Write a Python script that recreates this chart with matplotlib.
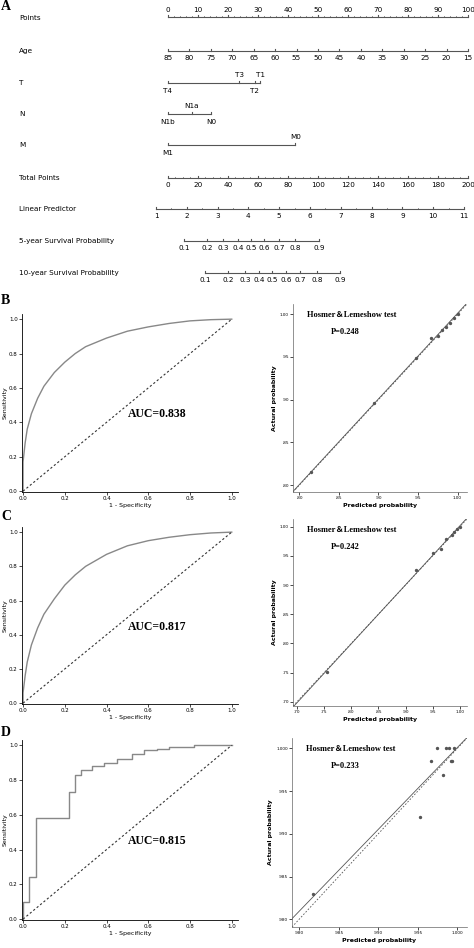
import numpy as np
import matplotlib
matplotlib.use("Agg")
import matplotlib.pyplot as plt

W, H = 474, 948
# ---------------- Nomogram data ----------------
rows = ["Points", "Age", "T", "N", "M", "Total Points", "Linear Predictor",
        "5-year Survival Probability", "10-year Survival Probability"]
age_vals = [85, 80, 75, 70, 65, 60, 55, 50, 45, 40, 35, 30, 25, 20, 15]
t_labels = ["T4", "T3", "T2", "T1"]
t_points = [0, 23.7, 29.0, 30.7]
n_labels = ["N1b", "N1a", "N0"]
n_points = [0, 8.0, 14.5]
m_labels = ["M1", "M0"]
m_points = [0, 42.5]
lp_ticks = list(range(1, 12))
surv_probs = [0.1, 0.2, 0.3, 0.4, 0.5, 0.6, 0.7, 0.8, 0.9]
surv5_lp = [1.91, 2.66, 3.18, 3.66, 4.08, 4.51, 5.00, 5.52, 6.30]
surv10_lp = [2.59, 3.34, 3.89, 4.34, 4.77, 5.22, 5.68, 6.23, 6.97]

# ---------------- ROC data ----------------
rocB_fpr = [0, 0.0, 0.01, 0.02, 0.04, 0.07, 0.10, 0.15, 0.20, 0.25, 0.30, 0.40, 0.50, 0.60, 0.70, 0.80, 0.90, 1.0]
rocB_tpr = [0, 0.17, 0.28, 0.36, 0.45, 0.54, 0.61, 0.69, 0.75, 0.80, 0.84, 0.89, 0.93, 0.955, 0.975, 0.99, 0.997, 1.0]
rocC_fpr = [0, 0.0, 0.01, 0.02, 0.04, 0.07, 0.10, 0.15, 0.20, 0.25, 0.30, 0.40, 0.50, 0.60, 0.70, 0.80, 0.90, 1.0]
rocC_tpr = [0, 0.06, 0.16, 0.24, 0.34, 0.44, 0.52, 0.61, 0.69, 0.75, 0.80, 0.87, 0.92, 0.95, 0.97, 0.985, 0.995, 1.0]
rocD_fpr = [0, 0.0, 0.03, 0.03, 0.06, 0.06, 0.09, 0.09, 0.22, 0.22, 0.25, 0.25, 0.28, 0.28, 0.33, 0.33, 0.39, 0.39, 0.45, 0.45, 0.52, 0.52, 0.58, 0.58, 0.64, 0.64, 0.70, 0.70, 0.82, 0.82, 1.0]
rocD_tpr = [0, 0.10, 0.10, 0.24, 0.24, 0.58, 0.58, 0.58, 0.58, 0.73, 0.73, 0.83, 0.83, 0.86, 0.86, 0.88, 0.88, 0.90, 0.90, 0.92, 0.92, 0.95, 0.95, 0.97, 0.97, 0.98, 0.98, 0.99, 0.99, 1.0, 1.0]
aucs = ["AUC=0.838", "AUC=0.817", "AUC=0.815"]

# ---------------- Calibration data ----------------
calB_pred = [0.815, 0.895, 0.948, 0.966, 0.975, 0.980, 0.985, 0.990, 0.995, 1.000]
calB_obs = [0.815, 0.896, 0.949, 0.972, 0.975, 0.981, 0.985, 0.990, 0.996, 1.000]
calC_pred = [0.755, 0.92, 0.95, 0.965, 0.975, 0.985, 0.99, 0.995, 1.0]
calC_obs = [0.752, 0.925, 0.955, 0.962, 0.978, 0.985, 0.99, 0.996, 1.0]
calD_pred = [0.9818, 0.9953, 0.9966, 0.9974, 0.9982, 0.9986, 0.9989, 0.9992, 0.9993, 0.9996]
calD_obs = [0.9830, 0.9920, 0.9985, 1.0000, 0.9969, 1.0000, 1.0000, 0.9985, 0.9985, 1.0000]
pvals = ["P=0.248", "P=0.242", "P=0.233"]

fig = plt.figure(figsize=(W / 100, H / 100), dpi=100)

def ax_px(x0, y0, x1, y1):
    return fig.add_axes([x0 / W, 1 - y1 / H, (x1 - x0) / W, (y1 - y0) / H])

# ---------------- Nomogram ----------------
ax = ax_px(0, 0, W, 300)
ax.set_xlim(0, W); ax.set_ylim(300, 0); ax.axis("off")
P0, P1 = 168, 468
def pts2x(p): return P0 + (P1 - P0) * p / 100.0
def lp2x(v): return 156 + (v - 1) * 30.8
row_y = [18, 51, 83, 114, 145, 178, 209, 241, 273]
fs = 5.2
lc = "#555555"
for r, y in zip(rows, row_y):
    ax.text(19, y, r, fontsize=fs, va="center", ha="left")

def scale(y, xs, labels, minor=None, lab_above=False, tick=2.5):
    ax.plot([min(xs), max(xs)], [y, y], color=lc, lw=0.8)
    for x, l in zip(xs, labels):
        ax.plot([x, x], [y - tick, y], color=lc, lw=0.8)
        ax.text(x, y - 7 if lab_above else y + 7, l, fontsize=fs, ha="center", va="center")
    if minor is not None:
        for x in minor:
            ax.plot([x, x], [y - 1.3, y], color=lc, lw=0.5)

scale(row_y[0] - 1, [pts2x(p) for p in range(0, 101, 10)], [str(p) for p in range(0, 101, 10)],
      minor=[pts2x(p) for p in range(0, 101, 2)], lab_above=True)
scale(row_y[1], [pts2x((85 - a) / 70 * 100) for a in age_vals], [str(a) for a in age_vals])
def cat(y, pts, labels, above):
    xs = [pts2x(p) for p in pts]
    ax.plot([min(xs), max(xs)], [y, y], color=lc, lw=0.8)
    for x, l, a in zip(xs, labels, above):
        ax.plot([x, x], [y - 2.5, y], color=lc, lw=0.8)
        ax.text(x, y - 8 if a else y + 8, l, fontsize=fs, ha="center", va="center")
cat(row_y[2], t_points, t_labels, [False, True, False, True])
cat(row_y[3], n_points, n_labels, [False, True, False])
cat(row_y[4], m_points, m_labels, [False, True])
scale(row_y[5], [pts2x(p / 2) for p in range(0, 201, 20)], [str(p) for p in range(0, 201, 20)],
      minor=[pts2x(p / 2) for p in range(0, 201, 5)])
scale(row_y[6], [lp2x(v) for v in lp_ticks], [str(v) for v in lp_ticks],
      minor=[lp2x(v + 0.5) for v in lp_ticks[:-1]])
scale(row_y[7], [lp2x(v) for v in surv5_lp], [str(p) for p in surv_probs])
scale(row_y[8], [lp2x(v) for v in surv10_lp], [str(p) for p in surv_probs])

for let, y in zip("ABCD", [6, 300, 516, 732]):
    fig.text(1 / W, 1 - y / H, let, fontsize=10, fontweight="bold", family="Liberation Serif", va="center")

def roc(box, fpr, tpr, auc):
    a = ax_px(*box)
    a.plot(fpr, tpr, color="#888888", lw=1.0)
    a.plot([0, 1], [0, 1], color="#333333", lw=0.8, ls=(0, (2, 2)))
    a.set_xlim(-0.005, 1.03); a.set_ylim(-0.005, 1.03)
    a.set_xticks(np.arange(0, 1.01, 0.2)); a.set_yticks(np.arange(0, 1.01, 0.2))
    a.tick_params(labelsize=4, length=2, width=0.5, pad=1)
    for s in ["top", "right"]: a.spines[s].set_visible(False)
    for s in ["left", "bottom"]: a.spines[s].set_linewidth(0.6)
    a.set_xlabel("1 - Specificity", fontsize=4.5, labelpad=1)
    a.set_ylabel("Sensitivity", fontsize=4.5, labelpad=1)
    a.text(0.5, 0.43, auc, fontsize=8.5, fontweight="bold", family="Liberation Serif")

roc((22, 314, 238, 492), rocB_fpr, rocB_tpr, aucs[0])
roc((22, 527, 238, 704), rocC_fpr, rocC_tpr, aucs[1])
roc((22, 740, 238, 920), rocD_fpr, rocD_tpr, aucs[2])

def cal(box, pred, obs, lim, ticks, labels, pv):
    a = ax_px(*box)
    a.plot([lim[0], lim[1]], [lim[0], lim[1]], color="#555555", lw=0.6, ls=(0, (2, 2)))
    k, b = np.polyfit(pred, obs, 1)
    xs = np.array(lim)
    a.plot(xs, k * xs + b, color="#555555", lw=0.6)
    a.scatter(pred, obs, s=2, color="#555555", marker="o")
    a.set_xlim(*lim); a.set_ylim(*lim)
    a.set_xticks(ticks); a.set_xticklabels(labels)
    a.set_yticks(ticks); a.set_yticklabels(labels)
    a.tick_params(labelsize=3, length=2, width=0.5, pad=1)
    for s in ["top", "right"]: a.spines[s].set_visible(False)
    for s in ["left", "bottom"]: a.spines[s].set_linewidth(0.5); a.spines[s].set_color("#666666")
    a.set_xlabel("Predicted probability", fontsize=4.5, fontweight="bold", labelpad=2)
    a.set_ylabel("Actural probability", fontsize=4.5, fontweight="bold", labelpad=2)
    a.text(0.08, 0.93, "Hosmer\uff06Lemeshow test", transform=a.transAxes, fontsize=6,
           fontweight="bold", family=["Liberation Serif", "Noto Sans CJK SC"])
    a.text(0.22, 0.84, pv, transform=a.transAxes, fontsize=6, fontweight="bold", family="Liberation Serif")

cal((293, 304, 467, 492), calB_pred, calB_obs, (0.792, 1.012),
    [0.80, 0.85, 0.90, 0.95, 1.00], [".80", ".85", ".90", ".95", "1.00"], pvals[0])
cal((293, 519, 467, 706), calC_pred, calC_obs, (0.693, 1.013),
    [0.70, 0.75, 0.80, 0.85, 0.90, 0.95, 1.00], [".70", ".75", ".80", ".85", ".90", ".95", "1.00"], pvals[1])
cal((292, 738, 467, 927), calD_pred, calD_obs, (0.9791, 1.0012),
    [0.980, 0.985, 0.990, 0.995, 1.000], [".980", ".985", ".990", ".995", "1.000"], pvals[2])

fig.savefig("out.png", dpi=100)
